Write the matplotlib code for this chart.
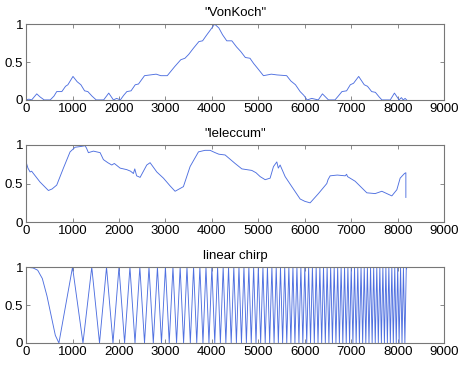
import matplotlib
matplotlib.use("Agg")
import matplotlib.pyplot as plt

# "VonKoch" signal, vertices
vonkoch_x = [0, 60, 120, 230, 300, 390, 520, 600, 660, 770, 850, 900, 1010, 1100,
             1180, 1260, 1330, 1420, 1510, 1670, 1780, 1880, 1950, 2030, 2100, 2170,
             2260, 2350, 2420, 2550, 2800, 2900, 3040, 3120, 3200, 3330, 3420, 3500,
             3600, 3720, 3800, 3880, 4060, 4150, 4230, 4320, 4430, 4530, 4620, 4720,
             4820, 4900, 4980, 5110, 5280, 5400, 5610, 5700, 5800, 5900, 5980, 6050,
             6150, 6290, 6380, 6510, 6650, 6720, 6800, 6900, 6980, 7050, 7160, 7280,
             7350, 7440, 7520, 7600, 7660, 7840, 7930, 8030, 8080, 8120, 8160, 8192]
vonkoch_y = [0.0, 0.01, 0.0, 0.08, 0.04, 0.0, 0.0, 0.05, 0.11, 0.11, 0.18, 0.2, 0.31, 0.24,
             0.2, 0.12, 0.11, 0.05, 0.0, 0.0, 0.09, 0.0, 0.02, 0.0, 0.06, 0.11,
             0.12, 0.2, 0.21, 0.32, 0.34, 0.32, 0.32, 0.38, 0.44, 0.53, 0.55, 0.6,
             0.68, 0.77, 0.78, 0.85, 1.0, 0.95, 0.86, 0.78, 0.78, 0.7, 0.64, 0.56,
             0.55, 0.48, 0.42, 0.32, 0.34, 0.33, 0.32, 0.25, 0.2, 0.11, 0.06, 0.0,
             0.02, 0.0, 0.08, 0.0, 0.0, 0.05, 0.11, 0.12, 0.2, 0.22, 0.31, 0.2,
             0.18, 0.11, 0.1, 0.04, 0.0, 0.0, 0.09, 0.0, 0.03, 0.0, 0.02, 0.0]

# "leleccum" signal, points
lelec_x = [0, 40, 86, 120, 158, 300, 481, 560, 660, 804, 947, 1055, 1180, 1270, 1300,
           1342, 1450, 1594, 1665, 1760, 1845, 1900, 2024, 2168, 2250, 2311, 2340,
           2380, 2455, 2598, 2670, 2814, 2957, 3100, 3208, 3387, 3531, 3711, 3850,
           3962, 4070, 4150, 4285, 4500, 4645, 4860, 4950, 5039, 5147, 5254, 5326,
           5398, 5430, 5469, 5577, 5721, 5900, 6000, 6115, 6294, 6474, 6500, 6546,
           6700, 6869, 6900, 6920, 7084, 7336, 7515, 7659, 7874, 7982, 8053, 8146,
           8176, 8176]
lelec_y = [0.78, 0.7, 0.65, 0.66, 0.63, 0.52, 0.41, 0.43, 0.48, 0.70, 0.91, 0.97, 0.98,
           0.99, 0.96, 0.9, 0.92, 0.90, 0.81, 0.77, 0.74, 0.76, 0.70, 0.68, 0.66, 0.63,
           0.69, 0.6, 0.58, 0.74, 0.77, 0.65, 0.57, 0.47, 0.40, 0.46, 0.72, 0.91, 0.93,
           0.93, 0.90, 0.88, 0.87, 0.76, 0.69, 0.67, 0.64, 0.59, 0.55, 0.57, 0.72,
           0.78, 0.70, 0.74, 0.59, 0.46, 0.30, 0.27, 0.25, 0.37, 0.50, 0.55, 0.60,
           0.61, 0.60, 0.62, 0.59, 0.53, 0.38, 0.37, 0.40, 0.34, 0.42, 0.57, 0.63,
           0.64, 0.32]

# linear chirp: positions of maxima (=1) and minima (=0)
chirp_peaks = [1000, 1414, 1732, 2000, 2236, 2449, 2646, 2828, 3000, 3162, 3317,
               3464, 3606, 3742, 3873, 4000, 4123, 4243, 4359, 4472, 4583, 4690,
               4796, 4899, 5000, 5099, 5196, 5292, 5385, 5477, 5568, 5657, 5745,
               5831, 5916, 6000, 6083, 6164, 6245, 6325, 6403, 6481, 6557, 6633,
               6708, 6782, 6856, 6928, 7000, 7071, 7141, 7211, 7280, 7348, 7416,
               7483, 7550, 7616, 7681, 7746, 7810, 7874, 7937, 8000, 8062, 8124, 8185]
chirp_troughs = [707, 1225, 1581, 1871, 2121, 2345, 2550, 2739, 2915, 3082, 3240,
                 3391, 3536, 3674, 3808, 3937, 4062, 4183, 4301, 4416, 4528, 4637,
                 4743, 4848, 4950, 5050, 5148, 5244, 5339, 5431, 5523, 5612, 5701,
                 5788, 5874, 5958, 6042, 6124, 6205, 6285, 6364, 6442, 6519, 6595,
                 6671, 6745, 6819, 6892, 6964, 7036, 7106, 7176, 7246, 7314, 7382,
                 7450, 7517, 7583, 7649, 7714, 7778, 7842, 7906, 7969, 8031, 8093, 8155]
# first slow lobe
chirp_start_x = [0, 150, 250, 350, 450, 550, 630]
chirp_start_y = [1.0, 0.99, 0.96, 0.85, 0.62, 0.33, 0.1]
chirp_end = (8192, 0.98)

chirp_x = list(chirp_start_x)
chirp_y = list(chirp_start_y)
for t, p in zip(chirp_troughs, chirp_peaks):
    chirp_x += [t, p]
    chirp_y += [0.0, 1.0]
chirp_x.append(chirp_end[0])
chirp_y.append(chirp_end[1])

xticks = [0, 1000, 2000, 3000, 4000, 5000, 6000, 7000, 8000, 9000]
yticks = [0, 0.5, 1]
titles = ['"VonKoch"', '"leleccum"', 'linear chirp']

plt.rcParams['font.family'] = ['Liberation Sans', 'DejaVu Sans']
line_col = '#4f70e0'

fig = plt.figure(figsize=(4.74, 3.66), dpi=100)
boxes = [(0.055, 0.727, 0.882, 0.207),
         (0.055, 0.393, 0.882, 0.211),
         (0.055, 0.063, 0.882, 0.207)]
series = [(vonkoch_x, vonkoch_y), (lelec_x, lelec_y), (chirp_x, chirp_y)]

for box, (xs, ys), title in zip(boxes, series, titles):
    ax = fig.add_axes(box)
    ax.plot(xs, ys, color=line_col, lw=0.65)
    ax.set_xlim(0, 9000)
    ax.set_ylim(0, 1)
    ax.set_xticks(xticks)
    ax.set_yticks(yticks)
    ax.set_yticklabels(['0', '0.5', '1'])
    ax.tick_params(direction='in', top=True, right=True, length=3,
                   width=0.6, color='#777777', labelsize=9.5, pad=2)
    for s in ax.spines.values():
        s.set_color('#777777')
        s.set_linewidth(0.8)
    ax.set_title(title, fontsize=9.5, pad=6)

fig.savefig('out.png', dpi=100)
